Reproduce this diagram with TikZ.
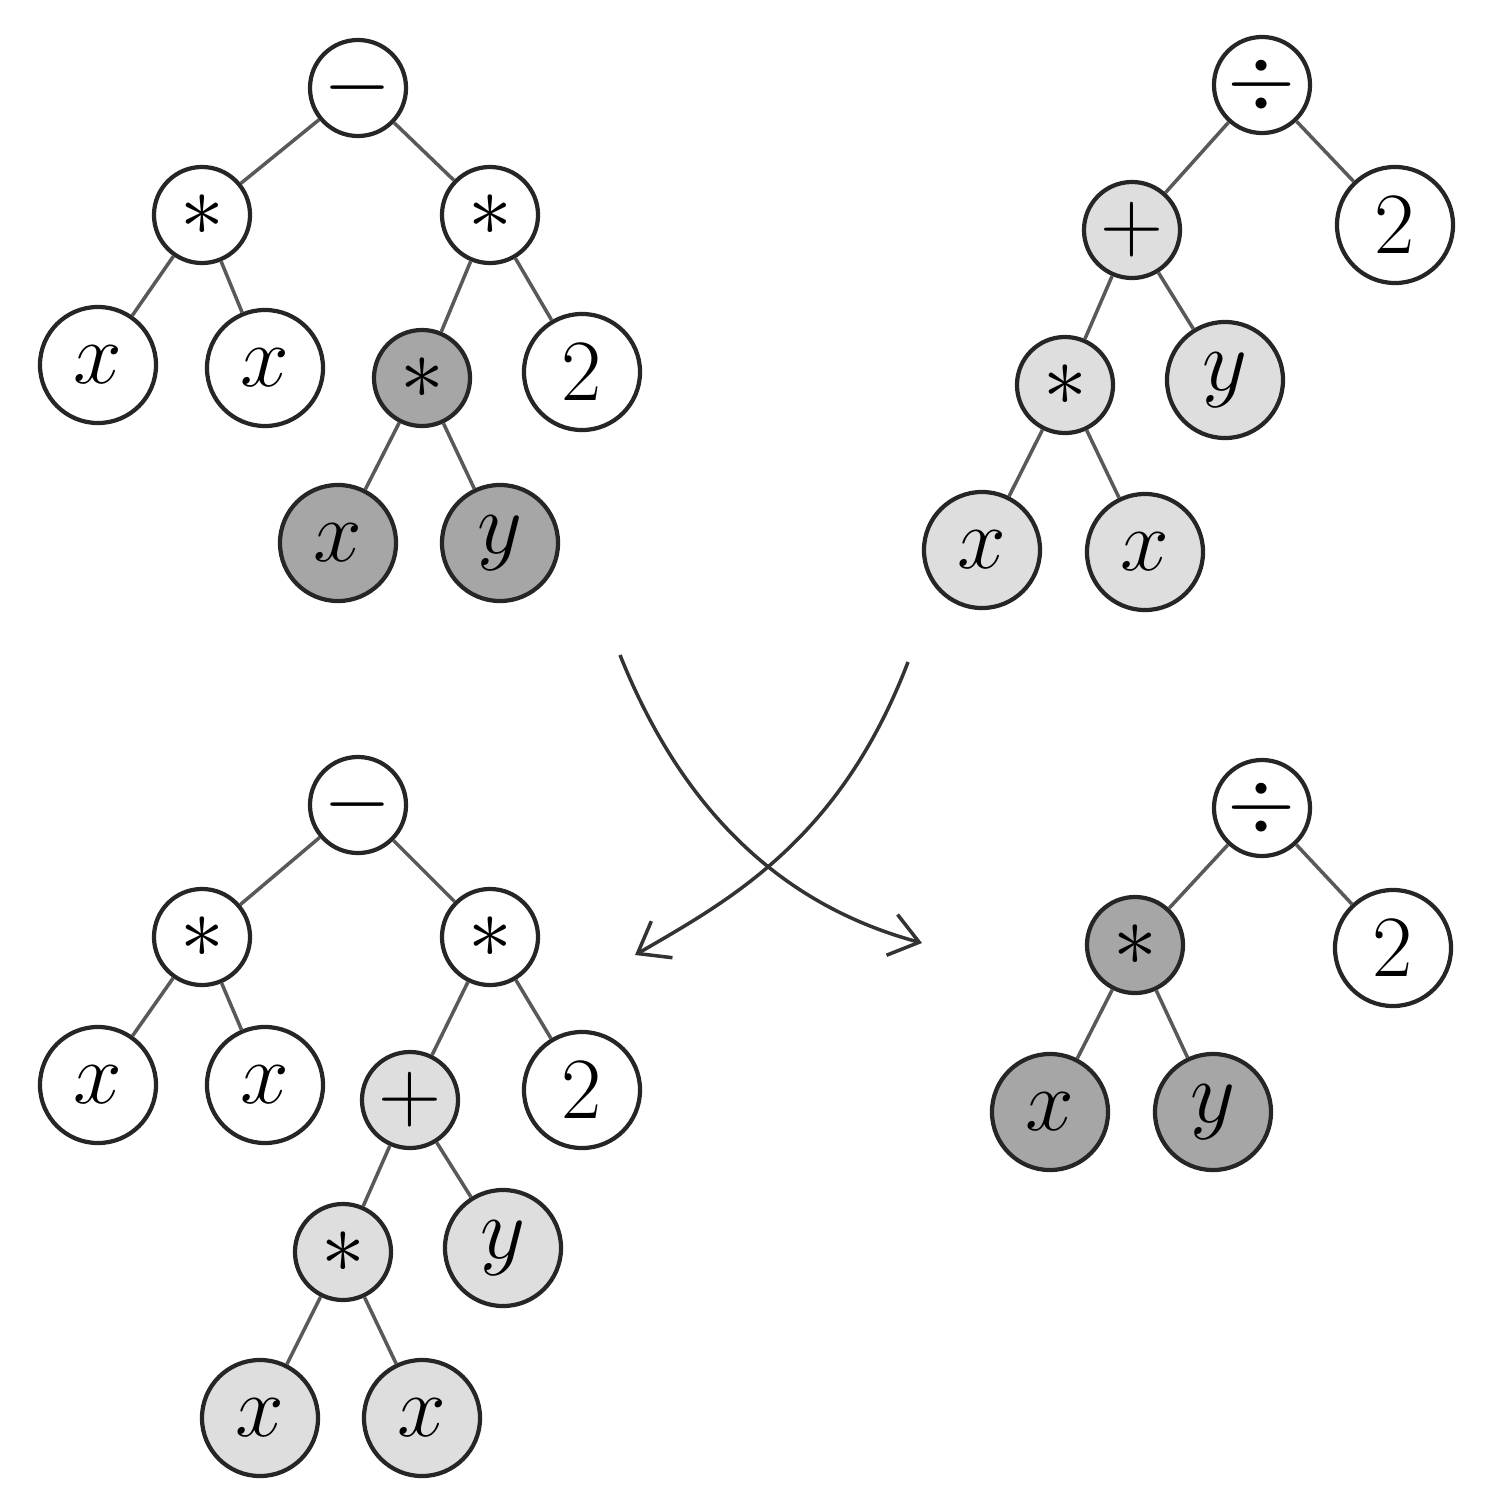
\documentclass[tikz,border=0pt]{standalone}
\usetikzlibrary{arrows.meta}
\begin{document}
\begin{tikzpicture}[x=0.01cm,y=-0.01cm,
 op/.style={circle,draw=black!85,line width=1.2pt,minimum size=0.96cm,inner sep=0pt,font=\fontsize{24}{26}\selectfont},
 lf/.style={circle,draw=black!85,line width=1.2pt,minimum size=1.16cm,inner sep=0pt,font=\fontsize{30}{32}\selectfont},
 dk/.style={fill=black!35},
 lt/.style={fill=black!13},
 ed/.style={draw=black!65,line width=1pt},
 arr/.style={draw=black!80,line width=1pt,-{Straight Barb[length=8pt,width=12pt]}}]
\useasboundingbox (0,0) rectangle (1492,1509);
% top-left
\node[op] (a0) at (358,88) {$-$};
\node[op] (a1) at (202,215) {$\ast$};
\node[op] (a2) at (490,215) {$\ast$};
\node[lf] (a3) at (98,365) {$x$};
\node[lf] (a4) at (265,368) {$x$};
\node[op,dk] (a5) at (422,378) {$\ast$};
\node[lf] (a6) at (582,372) {$2$};
\node[lf,dk] (a7) at (338,543) {$x$};
\node[lf,dk] (a8) at (500,543) {$y$};
\path[ed] (a0)--(a1) (a0)--(a2) (a1)--(a3) (a1)--(a4) (a2)--(a5) (a2)--(a6) (a5)--(a7) (a5)--(a8);
% top-right
\node[op] (b0) at (1262,85) {$\div$};
\node[op,lt] (b1) at (1132,230) {$+$};
\node[lf] (b2) at (1395,225) {$2$};
\node[op,lt] (b3) at (1065,385) {$\ast$};
\node[lf,lt] (b4) at (1225,380) {$y$};
\node[lf,lt] (b5) at (982,550) {$x$};
\node[lf,lt] (b6) at (1145,552) {$x$};
\path[ed] (b0)--(b1) (b0)--(b2) (b1)--(b3) (b1)--(b4) (b3)--(b5) (b3)--(b6);
% bottom-left
\node[op] (c0) at (358,805) {$-$};
\node[op] (c1) at (202,937) {$\ast$};
\node[op] (c2) at (490,937) {$\ast$};
\node[lf] (c3) at (98,1085) {$x$};
\node[lf] (c4) at (265,1085) {$x$};
\node[op,lt] (c5) at (410,1100) {$+$};
\node[lf] (c6) at (582,1090) {$2$};
\node[op,lt] (c7) at (343,1252) {$\ast$};
\node[lf,lt] (c8) at (503,1248) {$y$};
\node[lf,lt] (c9) at (260,1418) {$x$};
\node[lf,lt] (c10) at (422,1418) {$x$};
\path[ed] (c0)--(c1) (c0)--(c2) (c1)--(c3) (c1)--(c4) (c2)--(c5) (c2)--(c6) (c5)--(c7) (c5)--(c8) (c7)--(c9) (c7)--(c10);
% bottom-right
\node[op] (d0) at (1262,808) {$\div$};
\node[op,dk] (d1) at (1135,945) {$\ast$};
\node[lf] (d2) at (1393,948) {$2$};
\node[lf,dk] (d3) at (1050,1112) {$x$};
\node[lf,dk] (d4) at (1213,1112) {$y$};
\path[ed] (d0)--(d1) (d0)--(d2) (d1)--(d3) (d1)--(d4);
% arrows
\coordinate (s1) at (620,655); \coordinate (e1) at (922,943);
\coordinate (s2) at (908,662); \coordinate (e2) at (635,955);
\draw[arr] (s1) .. controls (690,830) and (800,910) .. (e1);
\draw[arr] (s2) .. controls (840,840) and (730,900) .. (e2);
\end{tikzpicture}
\end{document}
